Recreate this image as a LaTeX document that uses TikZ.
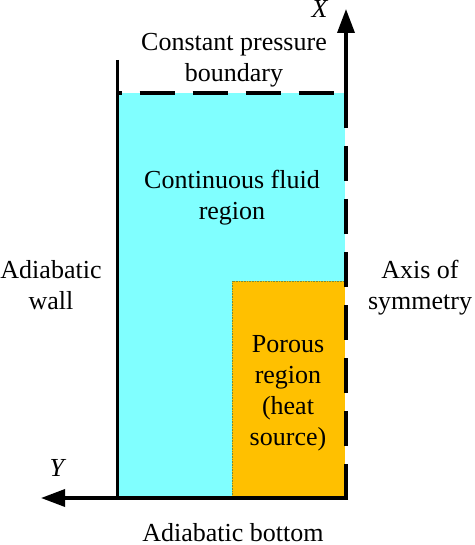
\documentclass[tikz,border=0pt]{standalone}
\usepackage{fontspec}
\setmainfont{Liberation Serif}
\usetikzlibrary{arrows.meta}
\definecolor{fluid}{RGB}{128,255,255}
\definecolor{porous}{RGB}{255,192,0}
\definecolor{dotline}{RGB}{120,140,60}
\begin{document}
\begin{tikzpicture}[x=1pt,y=-1pt,
  lbl/.style={font=\fontsize{26}{31}\selectfont, align=center, inner sep=0pt, anchor=base},
  wall/.style={line width=3.5pt},
  bnd/.style={line width=4.5pt, dash pattern=on 35pt off 18pt},
  tip/.style={-{Triangle[length=24pt,width=17pt]}}]
\useasboundingbox (0,0) rectangle (474,545);
\coordinate (WT) at (117.5,60);
\coordinate (TL) at (117.5,93);
\coordinate (BL) at (117.5,498);
\coordinate (TR) at (346,93);
\coordinate (BR) at (346,498);
\coordinate (BRo) at (348,498);
\coordinate (FR) at (345,498);
\coordinate (XT) at (346,9);
\coordinate (YT) at (41,498);
\coordinate (PTL) at (232,281);
\coordinate (PTR) at (345,281);
\coordinate (PBL) at (232,498);
\fill[fluid] (TL) rectangle (FR);
\fill[porous] (PTL) rectangle (FR);
\draw[densely dotted, line width=0.6pt, dotline] (PBL) -- (PTL) -- (PTR);
\draw[wall] (WT) -- (BL);
\draw[wall, tip] (BRo) -- (YT);
\draw[bnd, dash phase=31pt] (TL) -- (TR);
\draw[bnd] (TR) -- (BR);
\draw[wall, tip] (TR) -- (XT);
\node[lbl] (cpb) at (234,82) {Constant pressure\\boundary};
\node[lbl] (cfr) at (232,219) {Continuous fluid\\region};
\node[lbl] (aw) at (51,309) {Adiabatic\\wall};
\node[lbl] (aos) at (420,309) {Axis of\\symmetry};
\node[lbl] (por) at (288,445) {Porous\\region\\(heat\\source)};
\node[lbl] (ab) at (233,541) {Adiabatic bottom};
\node[lbl] (xl) at (320,18) {\textit{X}};
\node[lbl] (yl) at (58,476) {\textit{Y}};
\end{tikzpicture}
\end{document}
